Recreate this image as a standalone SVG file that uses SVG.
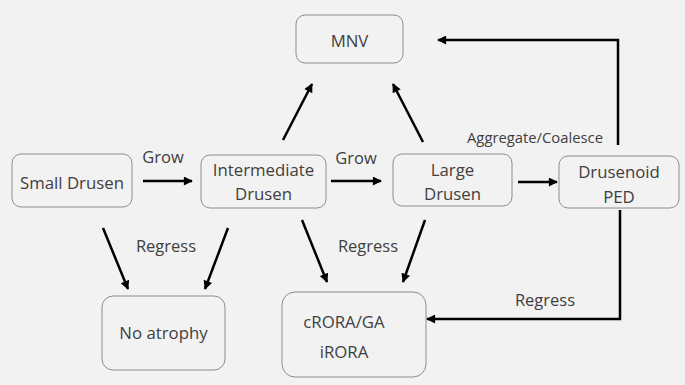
<svg xmlns="http://www.w3.org/2000/svg" width="685" height="385" viewBox="0 0 685 385">
<defs>
<marker id="ah" viewBox="0 0 10 10" refX="9" refY="5" markerWidth="11" markerHeight="9" orient="auto-start-reverse" markerUnits="userSpaceOnUse">
<path d="M0,0 L10,5 L0,10 z" fill="#000"/>
</marker>
<style>
.box{fill:#f2f2f2;stroke:#8c8c8c;stroke-width:1}
.t{font-family:"Open Sans","Liberation Sans",sans-serif;font-size:16.8px;fill:#404040;text-anchor:middle}
.l{font-family:"Open Sans","Liberation Sans",sans-serif;font-size:16.5px;fill:#404040;text-anchor:middle}
.c{fill:none;stroke:#000;stroke-width:2.5;marker-end:url(#ah)}
</style>
</defs>
<rect width="685" height="385" fill="#f2f2f2"/>
<g id="small"><rect class="box" x="12" y="154" width="120" height="53" rx="9"/><text class="t" x="72" y="189">Small Drusen</text></g>
<g id="intermediate"><rect class="box" x="201" y="155" width="125" height="53" rx="9"/><text class="t" x="263.5" y="176">Intermediate</text><text class="t" x="263.5" y="200">Drusen</text></g>
<g id="large"><rect class="box" x="393" y="154" width="119" height="52" rx="9"/><text class="t" x="452.5" y="176">Large</text><text class="t" x="452.5" y="200">Drusen</text></g>
<g id="ped"><rect class="box" x="559" y="156" width="120" height="52" rx="9"/><text class="t" x="619" y="178">Drusenoid</text><text class="t" x="619" y="203">PED</text></g>
<g id="mnv"><rect class="box" x="296" y="15" width="107" height="48" rx="9"/><text class="t" x="349.5" y="47">MNV</text></g>
<g id="noatrophy"><rect class="box" x="102" y="296" width="123" height="74" rx="11"/><text class="t" x="163.5" y="339">No atrophy</text></g>
<g id="crora"><rect class="box" x="282" y="292" width="144" height="85" rx="13"/><text class="t" x="344" y="328">cRORA/GA</text><text class="t" x="344" y="358">iRORA</text></g>
<g id="connectors">
<line class="c" x1="143" y1="181" x2="192" y2="181"/>
<line class="c" x1="331" y1="181" x2="381" y2="181"/>
<line class="c" x1="518" y1="182" x2="557" y2="182"/>
<line class="c" x1="283" y1="140" x2="312" y2="84"/>
<line class="c" x1="423" y1="142" x2="393" y2="84"/>
<polyline class="c" points="618,145 618,40 438,40"/>
<line class="c" x1="103" y1="228" x2="128" y2="289"/>
<line class="c" x1="228" y1="228" x2="205" y2="289"/>
<line class="c" x1="302" y1="220" x2="327" y2="282"/>
<line class="c" x1="425" y1="220" x2="403" y2="282"/>
<polyline class="c" points="620,210 620,319 427,319"/>
<text class="l" x="163" y="163">Grow</text>
<text class="l" x="356" y="164">Grow</text>
<text class="l" x="535" y="143" style="font-size:14.8px">Aggregate/Coalesce</text>
<text class="l" x="166" y="252">Regress</text>
<text class="l" x="368" y="252">Regress</text>
<text class="l" x="545" y="306">Regress</text>
</g>
</svg>
